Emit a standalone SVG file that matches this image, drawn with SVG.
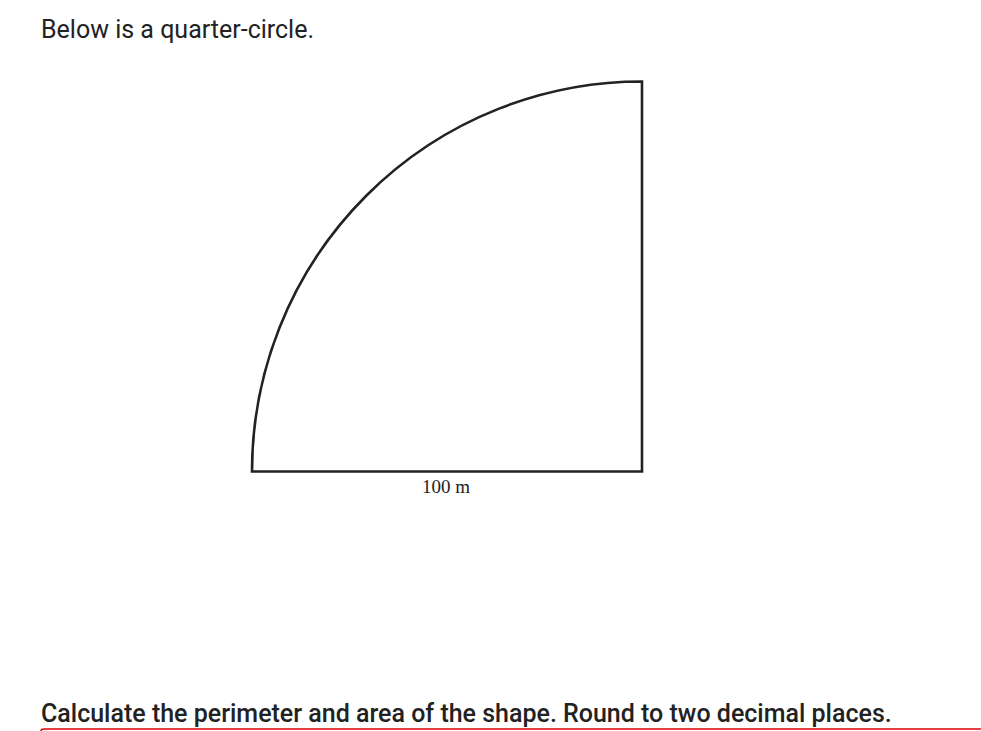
<svg xmlns="http://www.w3.org/2000/svg" width="981" height="731" viewBox="0 0 981 731">
<style>
.t{font-family:Roboto,"Liberation Sans",sans-serif;font-size:25px;fill:#222;}
.lbl{font-family:"Liberation Serif",serif;font-size:19px;fill:#222;}
</style>
<rect width="981" height="731" fill="#fff"/>
<text class="t" x="41" y="38">Below is a quarter-circle.</text>
<g id="shape">
<path d="M252,471.5 A390,390 0 0 1 642,81.5 L642,471.5 Z" fill="none" stroke="#222" stroke-width="2.6" stroke-linejoin="miter"/>
</g>
<text class="lbl" x="446" y="493" text-anchor="middle">100 m</text>
<text class="t" x="41" y="722" font-weight="500">Calculate the perimeter and area of the shape. Round to two decimal places.</text>
<path d="M41,731 Q41,729 44,729 L981,729" fill="none" stroke="#d00" stroke-width="1.5"/>
</svg>
